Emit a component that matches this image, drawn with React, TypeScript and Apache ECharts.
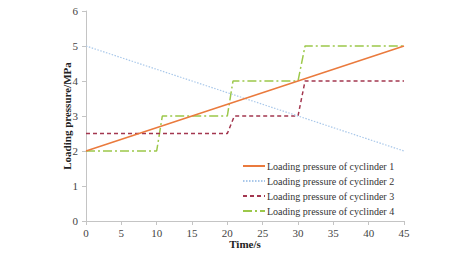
import React, { useEffect, useRef } from "react";
import * as echarts from "echarts";

const xTicks = [0, 5, 10, 15, 20, 25, 30, 35, 40, 45];
const seriesNames = [
  "Loading pressure of cyclinder 1",
  "Loading pressure of cyclinder 2",
  "Loading pressure of cyclinder 3",
  "Loading pressure of cyclinder 4",
];
const cyl1: [number, number][] = [[0, 2], [45, 5]];
const cyl2: [number, number][] = [[0, 5], [45, 2]];
const cyl3: [number, number][] = [[0, 2.5], [20, 2.5], [21, 3], [30, 3], [31, 4], [45, 4]];
const cyl4: [number, number][] = [[0, 2], [10, 2], [10.8, 3], [20, 3], [20.8, 4], [30, 4], [31, 5], [45, 5]];

const colors = ["#ea7a3d", "#a9c8ea", "#a3374f", "#9cc84a"];
const dashes: any[] = ["solid", [1.5, 1.5], [4, 3], [9, 3, 2, 3]];
const widths = [1.5, 1.2, 1.5, 1.5];

const serif = "'Times New Roman', 'Liberation Serif', serif";

export default function App() {
  const ref = useRef<HTMLDivElement>(null);
  useEffect(() => {
    const chart = echarts.init(ref.current!, null, { renderer: "svg" });
    const data = [cyl1, cyl2, cyl3, cyl4];
    chart.setOption({
      animation: false,
      textStyle: { fontFamily: serif },
      grid: { left: 86, right: 70, top: 11, bottom: 33 },
      legend: {
        orient: "vertical",
        left: 237,
        top: 156,
        itemWidth: 22,
        itemHeight: 8,
        itemGap: 5,
        itemStyle: { opacity: 0 },
        textStyle: { fontFamily: serif, fontSize: 10, color: "#333", padding: [0, 0, 0, -3] },
        data: seriesNames,
      },
      xAxis: {
        type: "value",
        min: 0,
        max: 45,
        interval: 5,
        name: "Time/s",
        nameLocation: "middle",
        nameGap: 17,
        nameMoveOverlap: false,
        nameTextStyle: { fontFamily: serif, fontWeight: "bold", fontSize: 11, color: "#222" },
        axisLine: { lineStyle: { color: "#c4c4c4" } },
        axisTick: { lineStyle: { color: "#c4c4c4" }, length: 4 },
        axisLabel: {
          fontFamily: serif,
          fontSize: 11,
          color: "#444",
          margin: 6,
          formatter: (v: number) => (xTicks.includes(v) ? String(v) : ""),
        },
        splitLine: { show: false },
      },
      yAxis: {
        type: "value",
        min: 0,
        max: 6,
        interval: 1,
        name: "Loading pressure/MPa",
        nameLocation: "middle",
        nameGap: 14,
        nameMoveOverlap: false,
        nameTextStyle: { fontFamily: serif, fontWeight: "bold", fontSize: 11, color: "#222" },
        axisLine: { show: true, lineStyle: { color: "#c4c4c4" } },
        axisTick: { show: true, lineStyle: { color: "#c4c4c4" }, length: 4 },
        axisLabel: { fontFamily: serif, fontSize: 11, color: "#444", margin: 8 },
        splitLine: { show: false },
      },
      series: data.map((d, i) => ({
        name: seriesNames[i],
        type: "line",
        data: d,
        symbol: "none",
        color: colors[i],
        lineStyle: { color: colors[i], width: widths[i], type: dashes[i] },
        z: 10 - i,
      })),
    });
    return () => chart.dispose();
  }, []);
  return (
    <div
      ref={ref}
      style={{ position: "fixed", left: 0, top: 0, width: 474, height: 254, background: "#fff" }}
    />
  );
}
